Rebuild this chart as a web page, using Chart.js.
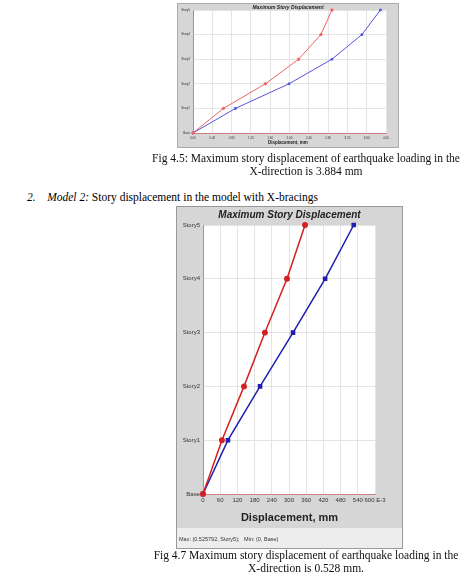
<!DOCTYPE html>
<html><head><meta charset="utf-8">
<script src="https://cdn.jsdelivr.net/npm/chart.js@4"></script>
<style>
body{margin:0;width:474px;height:578px;background:#fff;position:relative;overflow:hidden;font-family:"Liberation Serif",serif;}
.abs{position:absolute;}
.cap{font-size:11.5px;color:#111;text-align:center;line-height:13px;}
.tt{font-family:"Liberation Sans",Arial,sans-serif;font-weight:bold;font-style:italic;text-align:center;color:#222;}
</style></head><body>
<div class="abs" style="left:177px;top:3px;width:222px;height:145px;background:#d6d6d6;border:1px solid #aaa;box-sizing:border-box"></div>
<canvas id="c1" class="abs" style="left:178px;top:4px" width="220" height="143"></canvas>
<div class="abs tt" style="left:178px;top:4px;width:220px;font-size:5px">Maximum Story Displacement</div>
<div class="abs tt" style="left:178px;top:140px;width:220px;font-size:4.5px;font-style:normal">Displacement, mm</div>
<div class="abs cap" style="left:146px;top:152px;width:320px">Fig 4.5: Maximum story displacement of earthquake loading in the<br>X-direction is 3.884 mm</div>
<div class="abs" style="left:27px;top:191px;font-size:11.5px"><i>2.&nbsp;&nbsp;&nbsp;&nbsp;Model 2:</i> Story displacement in the model with X-bracings</div>

<div class="abs" style="left:176px;top:206px;width:227px;height:343px;background:#d6d6d6;border:1px solid #999;box-sizing:border-box"></div>
<div class="abs" style="left:177px;top:528px;width:225px;height:20px;background:#ededed"></div>
<canvas id="c2" class="abs" style="left:177px;top:207px" width="225" height="321"></canvas>
<div class="abs tt" style="left:177px;top:209px;width:225px;font-size:10px">Maximum Story Displacement</div>
<div class="abs tt" style="left:177px;top:511px;width:225px;font-size:11px;font-style:normal">Displacement, mm</div>
<div class="abs" style="left:179px;top:536px;font-family:'Liberation Sans',sans-serif;font-size:5.5px;color:#333">Max: (0.525792, Story5);&nbsp;&nbsp;&nbsp;Min: (0, Base)</div>
<div class="abs cap" style="left:146px;top:549px;width:320px">Fig 4.7 Maximum story displacement of earthquake loading in the<br>X-direction is 0.528 mm.</div>
<script>
const stories=["Base","Story1","Story2","Story3","Story4","Story5"];
const m1Red=[0,0.63,1.50,2.19,2.65,2.88];
const m1Blue=[0,0.88,1.99,2.88,3.50,3.884];
const m1Ticks=["0.00","0.40","0.80","1.20","1.60","2.00","2.40","2.80","3.20","3.60","4.00"];
const m2Red=[0,66,143,216,293,356];
const m2Blue=[0,87,199,314,426,525.8];
const m2Ticks=["0","60","120","180","240","300","360","420","480","540","600 E-3"];

const bgPlugin={id:'bg',beforeDraw(c){const a=c.chartArea,x=c.ctx;x.save();x.fillStyle='#fff';x.fillRect(a.left,a.top,a.right-a.left,a.bottom-a.top);x.restore();}};
function pts(v){return v.map((d,i)=>({x:d,y:i}));}
function make(id,red,blue,max,step,ticks,o){
  new Chart(document.getElementById(id),{type:'scatter',
    data:{datasets:[
      {data:pts(red),showLine:true,clip:false,borderColor:o.red,backgroundColor:o.red,borderWidth:o.lw,pointRadius:o.pr,pointStyle:'circle'},
      {data:pts(blue),showLine:true,clip:false,borderColor:o.blue,backgroundColor:o.blue,borderWidth:o.lw,pointRadius:o.pr,pointStyle:'rect'}]},
    options:{responsive:false,animation:false,
      layout:{padding:{top:o.pt,right:o.pr2,left:0,bottom:0}},
      plugins:{legend:{display:false},tooltip:{enabled:false}},
      scales:{
        x:{type:'linear',min:0,max:max,ticks:{stepSize:step,color:'#333',font:{size:o.fs},padding:1,autoSkip:false,maxRotation:0,callback:(v,i)=>ticks[i]},
           grid:{color:'#e4e4e4',tickLength:2},border:{color:'#d08080'},afterFit(s){s.height=o.xh;}},
        y:{type:'linear',min:0,max:5,ticks:{stepSize:1,color:'#333',font:{size:o.fs},padding:1,callback:v=>stories[v]},
           grid:{color:'#e4e4e4',tickLength:2},border:{color:'#d08080'},afterFit(s){s.width=o.yw;}}
      }},plugins:[bgPlugin]});
}
make('c1',m1Red,m1Blue,4,0.4,m1Ticks,{red:'#f06464',blue:'#5555dd',lw:1,pr:1.2,pt:6,pr2:12,fs:3,xh:14,yw:15});
make('c2',m2Red,m2Blue,600,60,m2Ticks,{red:'#d42020',blue:'#2020b0',lw:1.5,pr:2.2,pt:18,pr2:27,fs:6,xh:34,yw:26});
</script>
</body></html>
